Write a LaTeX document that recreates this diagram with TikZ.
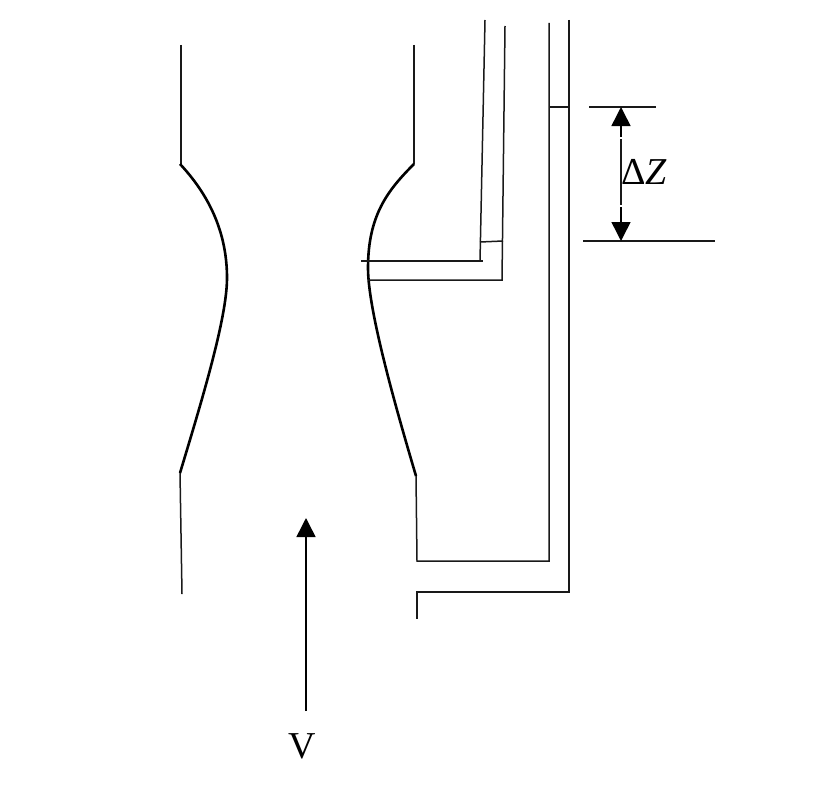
\documentclass[tikz,border=0pt]{standalone}
\usepackage{fontspec}
\setmainfont{Liberation Serif}
\usetikzlibrary{arrows.meta}
\tikzset{
    wall/.style={line width=1.5pt,black!90},
    throat/.style={line width=2.6pt,black},
    bigtip/.style={-{Triangle[width=19pt,length=19pt,fill=black]},line width=1.5pt,black},
    labeltext/.style={inner sep=0pt,font=\fontsize{38}{40}\selectfont}
}
\begin{document}
\begin{tikzpicture}[x=1pt,y=-1pt]
\useasboundingbox (0,0) rectangle (826,800);

% Straight ends of the tube
\draw[wall] (181,45) -- (181,164);
\draw[wall] (180,473) -- (182,594);
\draw[wall] (414,45) -- (414,164);

% Curved contour
\draw[throat] (180,164) .. controls (208,194) and (227,231) .. (227,278)
    .. controls (227,318) and (202,400) .. (180,473);
\draw[throat] (414,164) .. controls (388,190) and (368,215) .. (368,268)
    .. controls (368,310) and (395,405) .. (416,476);

% Inner and outer channels
\draw[wall] (416,476) -- (417,561) -- (549,561) -- (549,23);
\draw[wall] (569,20) -- (569,592) -- (417,592) -- (417,619);
\draw[wall] (549,107) -- (569,107);

% Small stepped tube
\draw[wall] (485,20) -- (480,261);
\draw[wall] (361,261) -- (483,261);
\draw[wall] (505,26) -- (502,280) -- (368,280);
\draw[wall] (480,242) -- (503,241);

% Height marker
\draw[wall] (589,107) -- (656,107);
\draw[wall] (583,241) -- (715,241);
\coordinate (zTop) at (621,107);
\coordinate (zBot) at (621,241);
\coordinate (gapA) at (621,137);
\coordinate (gapB) at (621,139);
\coordinate (gapC) at (621,205);
\coordinate (gapD) at (621,207);
\draw[bigtip] (gapA) -- (zTop);
\draw[wall] (gapB) -- (gapC);
\draw[bigtip] (gapD) -- (zBot);
\node[labeltext,anchor=west] (deltaZ) at (621,172) {Δ\textit{Z}};

% Flow direction
\coordinate (flowEnd) at (306,518);
\node[labeltext] (flowV) at (302,746) {V};
\coordinate (flowStart) at (306,711);
\draw[bigtip] (flowStart) -- (flowEnd);

\end{tikzpicture}
\end{document}
